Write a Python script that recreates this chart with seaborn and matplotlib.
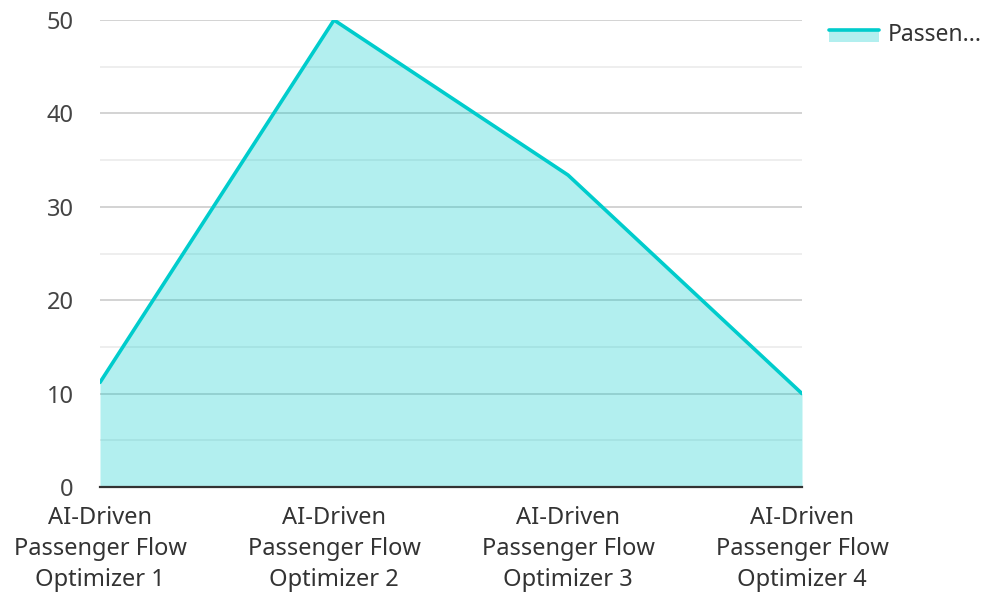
import matplotlib
matplotlib.use("Agg")
import matplotlib.pyplot as plt
import seaborn as sns
import pandas as pd
from matplotlib.lines import Line2D
from matplotlib.patches import Patch, Rectangle
from matplotlib.legend_handler import HandlerBase

categories = ["AI-Driven\nPassenger Flow\nOptimizer 1", "AI-Driven\nPassenger Flow\nOptimizer 2",
              "AI-Driven\nPassenger Flow\nOptimizer 3", "AI-Driven\nPassenger Flow\nOptimizer 4"]
values = [11.2, 50, 33.4, 10]
series_name = "Passen..."
y_ticks = [0, 10, 20, 30, 40, 50]

sns.set_theme(style="white")
plt.rcParams['font.family'] = ['Noto Sans', 'DejaVu Sans']
plt.rcParams['axes.axisbelow'] = True

line_color = "#00CCCC"

fig = plt.figure(figsize=(9.91, 5.92), dpi=100)
ax = fig.add_axes([100/991, 105/592, 702/991, 467/592])

df = pd.DataFrame({"x": range(len(categories)), "y": values})
ax.fill_between(df["x"], 0, df["y"], color=line_color, alpha=0.3, linewidth=0, zorder=1)
sns.lineplot(data=df, x="x", y="y", ax=ax, color=line_color, linewidth=2.6, zorder=3)

ax.set_xlim(0, len(categories) - 1)
ax.set_ylim(0, 50)
ax.set_yticks(y_ticks)
ax.set_yticks([5, 15, 25, 35, 45], minor=True)
ax.set_xticks(range(len(categories)))
ax.set_xticklabels(categories, fontsize=17, color="#333333", linespacing=1.38)
ax.tick_params(axis='y', labelsize=17, labelcolor="#444444", length=0, pad=19, which='both')
ax.tick_params(axis='x', length=0, pad=14)
ax.grid(True, axis='y', which='major', color="#cccccc", linewidth=1.2, alpha=1)
ax.grid(True, axis='y', which='minor', color="#ebebeb", linewidth=1.2)
ax.grid(False, axis='x')
for s in ["left", "right", "top"]:
    ax.spines[s].set_visible(False)
ax.spines["bottom"].set_color("#333333")
ax.spines["bottom"].set_linewidth(1.6)
ax.spines["bottom"].set_zorder(4)
ax.set_xlabel("")
ax.set_ylabel("")


class AreaHandler(HandlerBase):
    def create_artists(self, legend, orig_handle, xdescent, ydescent, width, height, fontsize, trans):
        h = height * 0.85
        y0 = -ydescent + (height - h) / 2 - 2
        rect = Rectangle((-xdescent, y0), width, h, facecolor=line_color, alpha=0.3,
                         edgecolor="none", transform=trans)
        ln = Line2D([-xdescent, -xdescent + width], [y0 + h - 1.3, y0 + h - 1.3],
                    color=line_color, linewidth=2.6, transform=trans)
        return [rect, ln]


handle = Patch(facecolor=line_color)
fig.legend([handle], [series_name], loc="upper left", bbox_to_anchor=(808/991, 1 - 2/592),
           frameon=False, fontsize=16.5, handlelength=2.2, handletextpad=0.4,
           handler_map={Patch: AreaHandler()}, labelcolor="#333333")

fig.savefig("out.png", dpi=100)
